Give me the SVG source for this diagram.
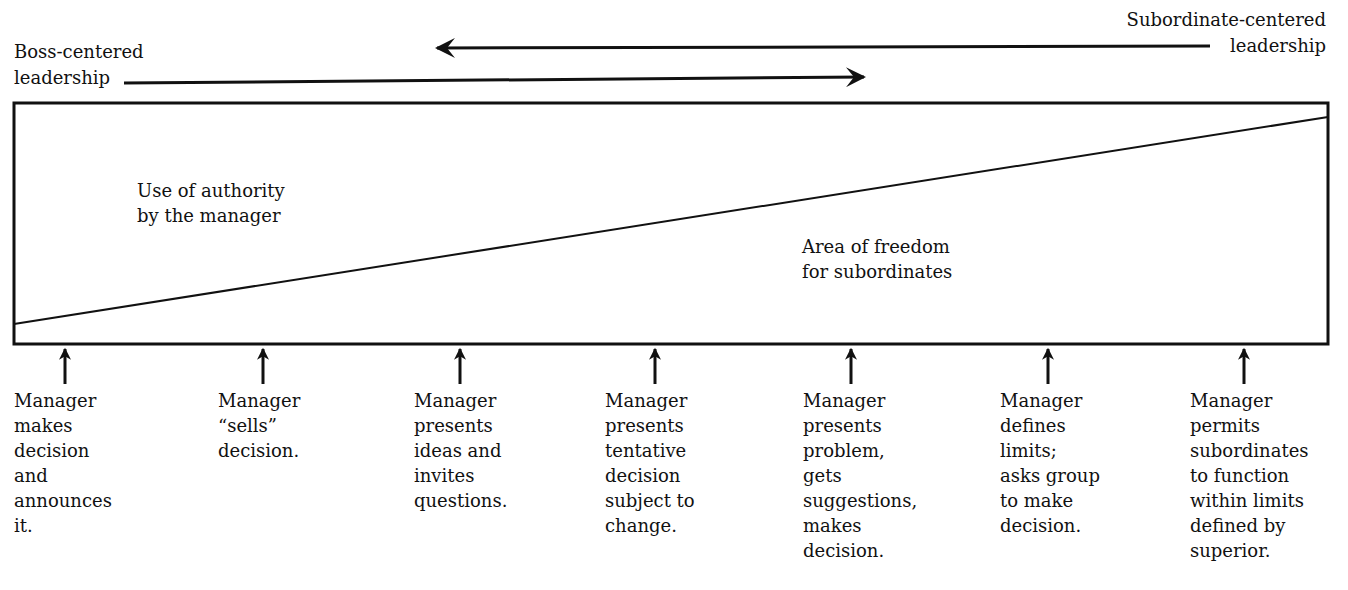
<svg xmlns="http://www.w3.org/2000/svg" width="1348" height="590" viewBox="0 0 1348 590">
<style>
text{font-family:"DejaVu Serif","Liberation Serif",serif;font-size:18px;fill:#111}
.l{stroke:#111;stroke-width:3;fill:none}
.a{stroke:#111;stroke-width:3}
</style>
<defs>
<marker id="h" viewBox="0 0 10 10" refX="9" refY="5" markerWidth="14" markerHeight="12" markerUnits="userSpaceOnUse" orient="auto"><path d="M0,0 L10,5 L0,10 L3,5 Z" fill="#111"/></marker>
<marker id="H" viewBox="0 0 10 10" refX="9" refY="5" markerWidth="34" markerHeight="20" markerUnits="userSpaceOnUse" orient="auto"><path d="M0,0 L10,5 L0,10 L4,5 Z" fill="#111"/></marker>
</defs>
<rect width="1348" height="590" fill="#fff"/>
<g id="frame">
<rect x="14" y="103" width="1314" height="241" class="l"/>
<line x1="14" y1="324" x2="1328" y2="117" stroke="#111" stroke-width="2"/>
<text x="137" y="197">Use of authority</text>
<text x="137" y="222">by the manager</text>
<text x="802" y="253">Area of freedom</text>
<text x="802" y="278">for subordinates</text>
</g>
<g id="boss"><text x="14" y="58">Boss-centered</text><text x="14" y="84">leadership</text></g>
<g id="sub"><text x="1326" y="26" text-anchor="end">Subordinate-centered</text><text x="1326" y="52" text-anchor="end">leadership</text></g>
<g id="connectors">
<line x1="1210" y1="46" x2="437" y2="48" class="a" marker-end="url(#H)"/>
<line x1="124" y1="83" x2="864" y2="77" class="a" marker-end="url(#H)"/>
<g marker-end="url(#h)" class="a">
<line x1="65" y1="384" x2="65" y2="349"/>
<line x1="263" y1="384" x2="263" y2="349"/>
<line x1="460" y1="384" x2="460" y2="349"/>
<line x1="655" y1="384" x2="655" y2="349"/>
<line x1="851" y1="384" x2="851" y2="349"/>
<line x1="1048" y1="384" x2="1048" y2="349"/>
<line x1="1244" y1="384" x2="1244" y2="349"/>
</g>
</g>
<g id="n1"><text x="14" y="407">Manager</text><text x="14" y="432">makes</text><text x="14" y="457">decision</text><text x="14" y="482">and</text><text x="14" y="507">announces</text><text x="14" y="532">it.</text></g>
<g id="n2"><text x="218" y="407">Manager</text><text x="218" y="432">“sells”</text><text x="218" y="457">decision.</text></g>
<g id="n3"><text x="414" y="407">Manager</text><text x="414" y="432">presents</text><text x="414" y="457">ideas and</text><text x="414" y="482">invites</text><text x="414" y="507">questions.</text></g>
<g id="n4"><text x="605" y="407">Manager</text><text x="605" y="432">presents</text><text x="605" y="457">tentative</text><text x="605" y="482">decision</text><text x="605" y="507">subject to</text><text x="605" y="532">change.</text></g>
<g id="n5"><text x="803" y="407">Manager</text><text x="803" y="432">presents</text><text x="803" y="457">problem,</text><text x="803" y="482">gets</text><text x="803" y="507">suggestions,</text><text x="803" y="532">makes</text><text x="803" y="557">decision.</text></g>
<g id="n6"><text x="1000" y="407">Manager</text><text x="1000" y="432">defines</text><text x="1000" y="457">limits;</text><text x="1000" y="482">asks group</text><text x="1000" y="507">to make</text><text x="1000" y="532">decision.</text></g>
<g id="n7"><text x="1190" y="407">Manager</text><text x="1190" y="432">permits</text><text x="1190" y="457">subordinates</text><text x="1190" y="482">to function</text><text x="1190" y="507">within limits</text><text x="1190" y="532">defined by</text><text x="1190" y="557">superior.</text></g>
</svg>
